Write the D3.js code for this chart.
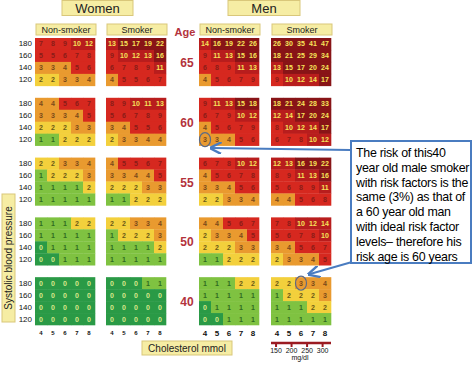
<!DOCTYPE html>
<html>
<head>
<meta charset="utf-8">
<script src="https://cdn.jsdelivr.net/npm/d3@7"></script>
<style>
  body { margin: 0; background: #fff; }
  svg { font-family: "Liberation Sans", Arial, sans-serif; }
</style>
</head>
<body>
<div id="app"></div>
<script>
// chart values, one 4x5 block per age (rows: sbp 180..120, cols: chol 4..8)
var ages = [65, 60, 55, 50, 40];
var sbp = [180, 160, 140, 120];
var chol = [4, 5, 6, 7, 8];
var mgdl = [150, 200, 250, 300];

var womenNonSmoker = [
  [[7, 8, 9, 10, 12], [5, 5, 6, 7, 8], [3, 3, 4, 5, 6], [2, 2, 3, 3, 4]],
  [[4, 4, 5, 6, 7], [3, 3, 3, 4, 5], [2, 2, 2, 3, 3], [1, 1, 2, 2, 2]],
  [[2, 2, 3, 3, 4], [1, 2, 2, 2, 3], [1, 1, 1, 1, 2], [1, 1, 1, 1, 1]],
  [[1, 1, 1, 2, 2], [1, 1, 1, 1, 1], [0, 1, 1, 1, 1], [0, 0, 1, 1, 1]],
  [[0, 0, 0, 0, 0], [0, 0, 0, 0, 0], [0, 0, 0, 0, 0], [0, 0, 0, 0, 0]]
];
var womenSmoker = [
  [[13, 15, 17, 19, 22], [9, 10, 12, 13, 16], [6, 7, 8, 9, 11], [4, 5, 5, 6, 7]],
  [[8, 9, 10, 11, 13], [5, 6, 7, 8, 9], [3, 4, 5, 5, 6], [2, 3, 3, 4, 4]],
  [[4, 5, 5, 6, 7], [3, 3, 4, 4, 5], [2, 2, 2, 3, 3], [1, 1, 2, 2, 2]],
  [[2, 2, 3, 3, 4], [1, 2, 2, 2, 3], [1, 1, 1, 1, 2], [1, 1, 1, 1, 1]],
  [[0, 0, 0, 1, 1], [0, 0, 0, 0, 0], [0, 0, 0, 0, 0], [0, 0, 0, 0, 0]]
];
var menNonSmoker = [
  [[14, 16, 19, 22, 26], [9, 11, 13, 15, 16], [6, 8, 9, 11, 13], [4, 5, 6, 7, 9]],
  [[9, 11, 13, 15, 18], [6, 7, 9, 10, 12], [4, 5, 6, 7, 9], [3, 3, 4, 5, 6]],
  [[6, 7, 8, 10, 12], [4, 5, 6, 7, 8], [3, 3, 4, 5, 6], [2, 2, 3, 3, 4]],
  [[4, 4, 5, 6, 7], [2, 3, 3, 4, 5], [2, 2, 2, 3, 3], [1, 1, 2, 2, 2]],
  [[1, 1, 1, 2, 2], [1, 1, 1, 1, 1], [0, 1, 1, 1, 1], [0, 0, 1, 1, 1]]
];
var menSmoker = [
  [[26, 30, 35, 41, 47], [18, 21, 25, 29, 34], [13, 15, 17, 20, 24], [9, 10, 12, 14, 17]],
  [[18, 21, 24, 28, 33], [12, 14, 17, 20, 24], [8, 10, 12, 14, 17], [6, 7, 8, 10, 12]],
  [[12, 13, 16, 19, 22], [8, 9, 11, 13, 16], [5, 6, 8, 9, 11], [4, 4, 5, 6, 8]],
  [[7, 8, 10, 12, 14], [5, 6, 7, 8, 10], [3, 4, 5, 6, 7], [2, 3, 3, 4, 5]],
  [[2, 2, 3, 3, 4], [1, 2, 2, 2, 3], [1, 1, 1, 2, 2], [1, 1, 1, 1, 1]]
];

var panels = [
  { key: 'womenNS', label: 'Non-smoker', values: womenNonSmoker, x: 35 },
  { key: 'womenS', label: 'Smoker', values: womenSmoker, x: 106 },
  { key: 'menNS', label: 'Non-smoker', values: menNonSmoker, x: 199 },
  { key: 'menS', label: 'Smoker', values: menSmoker, x: 271 }
];

var width = 474, height = 365, panelW = 60;

var svg = d3.select('#app').append('svg')
  .attr('width', width).attr('height', height);

var ageScale = d3.scaleBand().domain(ages).range([38, 325]).paddingInner(0.2);
var colScale = d3.scaleBand().domain(chol).range([0, panelW]);
var rowScale = d3.scaleBand().domain(sbp).range([0, ageScale.bandwidth()]);

var fillScale = d3.scaleThreshold()
  .domain([1, 2, 3, 5, 10, 15])
  .range(['#2a9a46', '#7fc241', '#f3d03c', '#e99a2f', '#d6281f', '#b81d1d', '#881417']);
var textScale = d3.scaleThreshold()
  .domain([1, 2, 3, 5, 10])
  .range(['#d9e88a', '#2f6b22', '#6b5a18', '#7a4a1a', '#8a1c18', '#f6e45a']);

// header boxes
function box(x, y, w, h, label, size) {
  svg.append('rect').attr('x', x).attr('y', y).attr('width', w).attr('height', h)
    .attr('fill', '#f6eda4').attr('stroke', '#d9c77a').attr('stroke-width', 1);
  svg.append('text').attr('x', x + w / 2).attr('y', y + h / 2)
    .attr('text-anchor', 'middle').attr('dominant-baseline', 'central')
    .attr('font-size', size).attr('fill', '#222').text(label);
}
box(62, 0.5, 71, 15, 'Women', 13);
box(228, 0.5, 72, 15, 'Men', 13);
panels.forEach(function (p) {
  box(p.x + 1, 24, panelW, 11, p.label, 9);
});

svg.append('text').attr('x', 185).attr('y', 36).attr('text-anchor', 'middle')
  .attr('font-size', 11).attr('font-weight', 'bold').attr('fill', '#b3333c').text('Age');

// cells
panels.forEach(function (p) {
  ages.forEach(function (age, ai) {
    var g = svg.append('g')
      .attr('transform', 'translate(' + p.x + ',' + ageScale(age) + ')');
    var cells = [];
    sbp.forEach(function (s, ri) {
      chol.forEach(function (c, ci) {
        cells.push({ s: s, c: c, v: p.values[ai][ri][ci] });
      });
    });
    g.selectAll('rect').data(cells).enter().append('rect')
      .attr('x', d => colScale(d.c))
      .attr('y', d => rowScale(d.s))
      .attr('width', colScale.bandwidth() + 0.3)
      .attr('height', rowScale.bandwidth() + 0.3)
      .attr('fill', d => fillScale(d.v));
    g.selectAll('text').data(cells).enter().append('text')
      .attr('x', d => colScale(d.c) + colScale.bandwidth() / 2)
      .attr('y', d => rowScale(d.s) + rowScale.bandwidth() / 2)
      .attr('text-anchor', 'middle').attr('dominant-baseline', 'central')
      .attr('font-size', 7).attr('font-weight', 'bold')
      .attr('fill', d => textScale(d.v))
      .text(d => d.v);
  });
});

// sbp labels, left side only
ages.forEach(function (age) {
  svg.append('g').selectAll('text').data(sbp).enter().append('text')
    .attr('x', 32)
    .attr('y', d => ageScale(age) + rowScale(d) + rowScale.bandwidth() / 2)
    .attr('text-anchor', 'end').attr('dominant-baseline', 'central')
    .attr('font-size', 8).attr('fill', '#111').text(d => d);
  svg.append('text').attr('x', 187)
    .attr('y', ageScale(age) + ageScale.bandwidth() / 2 + 1)
    .attr('text-anchor', 'middle').attr('dominant-baseline', 'central')
    .attr('font-size', 12).attr('font-weight', 'bold').attr('fill', '#b3333c').text(age);
});

// cholesterol tick labels
panels.forEach(function (p, i) {
  svg.append('g').selectAll('text').data(chol).enter().append('text')
    .attr('x', d => p.x + colScale(d) + colScale.bandwidth() / 2)
    .attr('y', 333)
    .attr('text-anchor', 'middle').attr('dominant-baseline', 'central')
    .attr('font-size', i < 2 ? 6 : 8).attr('font-weight', 'bold').attr('fill', '#111')
    .text(d => d);
});

// mg/dl axis under men smoker
var mgScale = d3.scaleLinear()
  .domain([4, 8])
  .range([panels[3].x + colScale.bandwidth() / 2, panels[3].x + panelW - colScale.bandwidth() / 2]);
var mgAxis = d3.axisBottom(mgScale)
  .tickValues(mgdl.map(d => d / 38.67))
  .tickFormat((d, i) => mgdl[i])
  .tickSize(4).tickSizeOuter(0);
var ax = svg.append('g').attr('transform', 'translate(0,343)').call(mgAxis);
ax.select('.domain').remove();
ax.insert('line', ':first-child').attr('x1', panels[3].x).attr('x2', panels[3].x + panelW)
  .attr('stroke', '#9b1b22').attr('stroke-width', 2.5);
ax.selectAll('.tick line').attr('stroke', '#9b1b22').attr('stroke-width', 2);
ax.selectAll('.tick text').attr('y', 5).attr('font-size', 7).attr('fill', '#111')
  .attr('font-family', '"Liberation Sans", Arial, sans-serif');
svg.append('text').attr('x', 300).attr('y', 360).attr('text-anchor', 'middle')
  .attr('font-size', 7).attr('fill', '#111').text('mg/dl');

// axis title boxes
box(142, 341, 90, 14, 'Cholesterol mmol', 10);
var yb = svg.append('g').attr('transform', 'translate(8.5,258) rotate(-90)');
yb.append('rect').attr('x', -64).attr('y', -6.5).attr('width', 128).attr('height', 13)
  .attr('fill', '#f6eda4').attr('stroke', '#d9c77a');
yb.append('text').attr('text-anchor', 'middle').attr('dominant-baseline', 'central')
  .attr('font-size', 10).attr('fill', '#222').text('Systolic blood pressure');

// circles around the compared cells
var circled = [
  { p: panels[2], age: 60, s: 120, c: 4 },
  { p: panels[3], age: 40, s: 180, c: 6 }
];
circled.forEach(function (d) {
  svg.append('ellipse')
    .attr('cx', d.p.x + colScale(d.c) + colScale.bandwidth() / 2)
    .attr('cy', ageScale(d.age) + rowScale(d.s) + rowScale.bandwidth() / 2)
    .attr('rx', 5.5).attr('ry', 7)
    .attr('fill', 'none').attr('stroke', '#5b6a86').attr('stroke-width', 1.2);
});

// annotation
svg.append('defs').append('marker').attr('id', 'arr')
  .attr('viewBox', '0 0 10 10').attr('refX', 8).attr('refY', 5)
  .attr('markerWidth', 6).attr('markerHeight', 6).attr('orient', 'auto')
  .append('path').attr('d', 'M0,0L10,5L0,10').attr('fill', 'none')
  .attr('stroke', '#4a7cc0').attr('stroke-width', 2);
svg.append('line').attr('x1', 350).attr('y1', 150).attr('x2', 212).attr('y2', 148)
  .attr('stroke', '#4a7cc0').attr('stroke-width', 2).attr('marker-end', 'url(#arr)');
svg.append('line').attr('x1', 352).attr('y1', 262).attr('x2', 310).attr('y2', 274)
  .attr('stroke', '#4a7cc0').attr('stroke-width', 2).attr('marker-end', 'url(#arr)');

svg.append('rect').attr('x', 351).attr('y', 141).attr('width', 120).attr('height', 122)
  .attr('fill', '#fff').attr('stroke', '#4a7cc0').attr('stroke-width', 2);
var note = [
  'The risk of this40',
  'year old male smoker',
  'with risk factors is the',
  'same (3%) as that of',
  'a 60 year old man',
  'with ideal risk factor',
  'levels– therefore his',
  'risk age is 60 years'
];
// condensed look of the original callout font
svg.append('g').attr('transform', 'translate(356,0) scale(0.92,1)')
  .selectAll('text').data(note).enter().append('text')
  .attr('x', 0).attr('y', (d, i) => 157 + i * 14.8)
  .attr('font-size', 13.5).attr('fill', '#000')
  .attr('letter-spacing', -0.3)
  .text(d => d);
</script>
</body>
</html>
